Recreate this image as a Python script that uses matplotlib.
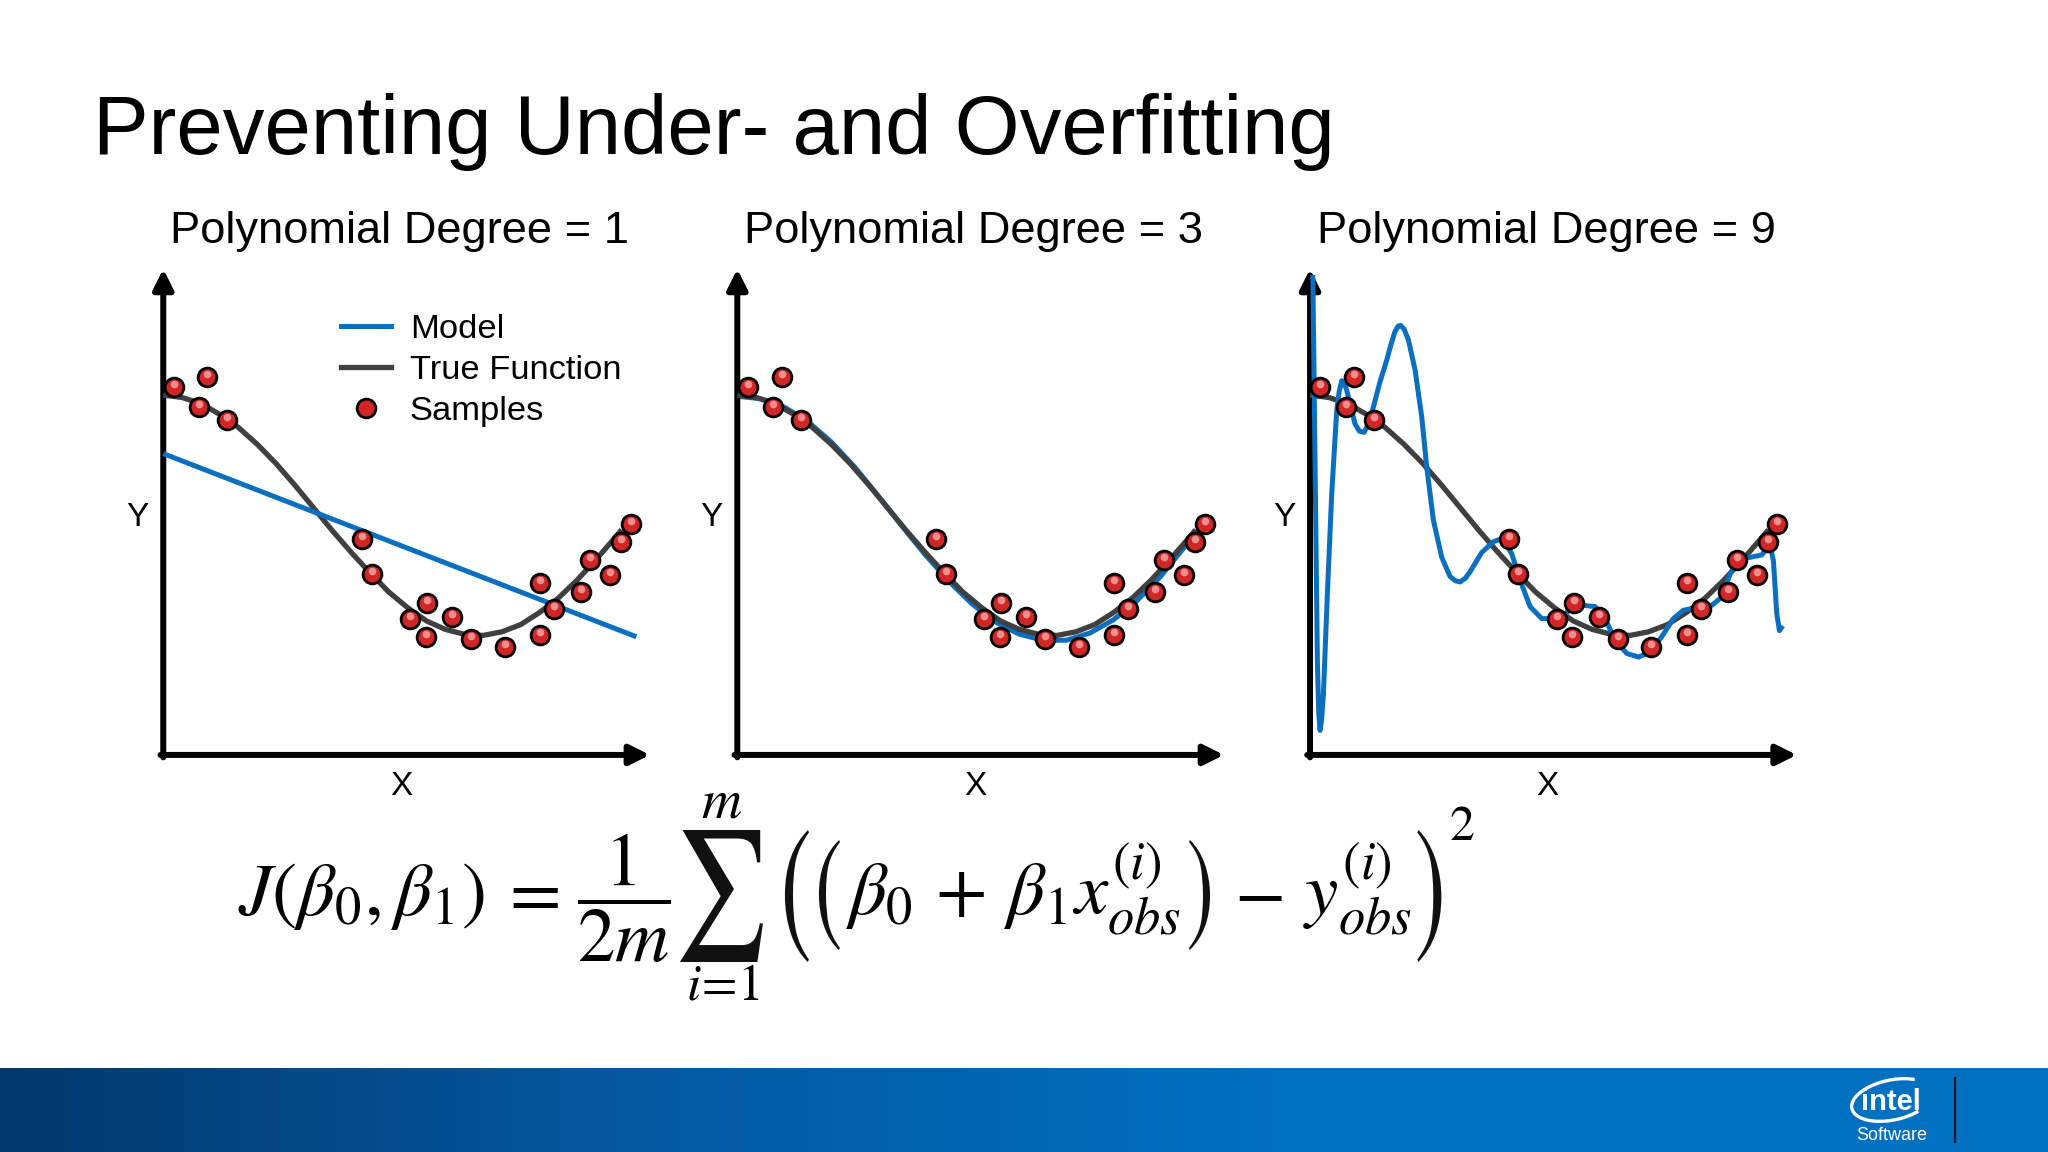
import numpy as np
import matplotlib
matplotlib.use("Agg")
import matplotlib.pyplot as plt
from matplotlib.lines import Line2D
from matplotlib.patches import Arc, PathPatch
from matplotlib.colors import LinearSegmentedColormap
from matplotlib.textpath import TextPath
from matplotlib.font_manager import FontProperties
from matplotlib.transforms import Affine2D
import matplotlib.transforms as mtransforms

plt.rcParams['font.family'] = ['Liberation Sans', 'DejaVu Sans']
plt.rcParams['mathtext.fontset'] = 'stix'

# ---------------- data ----------------
title = "Preventing Under- and Overfitting"
degrees = [1, 3, 9]
legend_labels = ["Model", "True Function", "Samples"]
x_label = "X"
y_label = "Y"
# cost function, split into its typeset pieces
f_lhs = r"$J(\beta_0,\beta_1)$"
f_eq = r"$=$"
f_frac = r"$\dfrac{1}{2m}$"
f_sum = "\u2211"
f_sum_top = r"$m$"
f_sum_bot = r"$i\!=\!1$"
f_inner = r"$\beta_0 \,+\, \beta_1 x_{obs}^{(i)}$"
f_minus = r"$-$"
f_y = r"$y_{obs}^{(i)}$"
f_pow = r"$2$"

sample_x = [0.022, 0.094, 0.076, 0.136, 0.423, 0.443, 0.525, 0.561, 0.558, 0.614,
            0.654, 0.726, 0.801, 0.801, 0.831, 0.888, 0.908, 0.950, 0.973, 0.994]
sample_y = [1.07, 1.15, 0.90, 0.79, -0.20, -0.49, -0.86, -0.73, -1.01, -0.85,
            -1.03, -1.10, -0.56, -1.00, -0.78, -0.64, -0.37, -0.50, -0.22, -0.07]

true_x = [0.00, 0.04, 0.08, 0.12, 0.16, 0.20, 0.24, 0.28, 0.32, 0.36, 0.40, 0.44, 0.48,
          0.52, 0.56, 0.60, 0.64, 0.68, 0.72, 0.76, 0.80, 0.84, 0.88, 0.92, 0.96, 0.975]
true_y = [1.00, 0.98, 0.93, 0.84, 0.73, 0.59, 0.43, 0.25, 0.06, -0.13, -0.31, -0.48, -0.64,
          -0.77, -0.88, -0.95, -0.99, -1.00, -0.97, -0.91, -0.81, -0.69, -0.54, -0.37, -0.19, -0.12]

model1_x = [0.0, 1.006]
model1_y = [0.513, -1.011]

model3_x = [0.00, 0.05, 0.10, 0.15, 0.20, 0.25, 0.30, 0.35, 0.40, 0.45, 0.50,
            0.55, 0.60, 0.65, 0.70, 0.75, 0.80, 0.85, 0.90, 0.95, 0.985]
model3_y = [0.99, 0.97, 0.90, 0.78, 0.61, 0.40, 0.16, -0.09, -0.33, -0.55, -0.74,
            -0.89, -0.99, -1.04, -1.04, -0.98, -0.87, -0.71, -0.51, -0.27, -0.11]

model9_x = [0.006, 0.0106, 0.0156, 0.0185, 0.0213, 0.0245, 0.0284, 0.0369, 0.0461, 0.0567,
            0.062, 0.0674, 0.072, 0.078, 0.0957, 0.105, 0.1149, 0.124, 0.1347, 0.148,
            0.163, 0.172, 0.1808, 0.1875, 0.1928, 0.200, 0.2092, 0.2233, 0.2375, 0.2482,
            0.2623, 0.2801, 0.2978, 0.309, 0.3191, 0.330, 0.3403, 0.3651, 0.39, 0.40,
            0.4112, 0.429, 0.4467, 0.468, 0.4928, 0.5247, 0.553, 0.5814, 0.6062, 0.6275,
            0.6487, 0.6736, 0.6984, 0.7232, 0.748, 0.7728, 0.7941, 0.8224, 0.8543, 0.8756,
            0.8933, 0.9111, 0.9359, 0.9607, 0.9784, 0.9855, 0.9926, 0.9983, 1.0053]
model9_y = [2.00, 0.46, -1.21, -1.65, -1.79, -1.70, -1.49, -0.65, 0.18, 0.87,
            1.03, 1.12, 1.11, 1.04, 0.76, 0.70, 0.69, 0.76, 0.90, 1.10,
            1.29, 1.42, 1.53, 1.575, 1.58, 1.55, 1.46, 1.21, 0.82, 0.40,
            -0.04, -0.35, -0.51, -0.545, -0.555, -0.525, -0.47, -0.31, -0.22, -0.205,
            -0.21, -0.32, -0.54, -0.76, -0.86, -0.86, -0.79, -0.75, -0.76, -0.86,
            -1.04, -1.15, -1.18, -1.14, -1.01, -0.86, -0.79, -0.77, -0.75, -0.68,
            -0.49, -0.36, -0.35, -0.33, -0.25, -0.38, -0.82, -0.96, -0.92]

model_x = [model1_x, model3_x, model9_x]
model_y = [model1_y, model3_y, model9_y]

# ---------------- style ----------------
BLUE = '#0b6fc0'
GRAY = '#404040'
RED = '#d22525'
W, H = 1568.0, 882.0          # reference layout units


def fx(X):
    return X / W


def fy(Y):
    return 1 - Y / H


fig = plt.figure(figsize=(20.48, 11.52), dpi=100)
fig.patch.set_facecolor('white')

fig.text(fx(71), fy(118), title, fontsize=60, ha='left', va='baseline', color='black')

origins = [125, 564.5, 1003]
XS, YS, Y0 = 360.0, 92.0, 394.5

for k, ox in enumerate(origins):
    ax = fig.add_axes([fx(ox - 40), fy(620), 440 / W, 425 / H])
    ax.set_xlim(-40 / XS, 400 / XS)
    ax.set_ylim((Y0 - 620) / YS, (Y0 - 195) / YS)
    ax.axis('off')

    ymin = (Y0 - 578) / YS
    ax.annotate('', xy=(0, 2.05), xytext=(0, ymin - 0.02),
                arrowprops=dict(arrowstyle='-|>', lw=4.3, color='black',
                                mutation_scale=30, shrinkA=0, shrinkB=0))
    ax.annotate('', xy=(1.035, ymin), xytext=(-0.006, ymin),
                arrowprops=dict(arrowstyle='-|>', lw=4.3, color='black',
                                mutation_scale=30, shrinkA=0, shrinkB=0))

    zm = 2 if k == 1 else 4
    ax.plot(true_x, true_y, color=GRAY, lw=3.8, zorder=3, solid_capstyle='butt',
            solid_joinstyle='round')
    ax.plot(model_x[k], model_y[k], color=BLUE, lw=3.6, zorder=zm, solid_capstyle='butt',
            solid_joinstyle='round')

    ax.plot(sample_x, sample_y, ls='none', marker='o', ms=13.5, mfc=RED, mec='black',
            mew=2.0, zorder=6)
    hl = mtransforms.offset_copy(ax.transData, fig=fig, x=0, y=2.2, units='points')
    ax.plot(sample_x, sample_y, ls='none', marker='o', ms=5.5, mfc='#f3a3a3', mec='none',
            alpha=0.85, zorder=7, transform=hl)

    ax.text(-20 / XS, (Y0 - 396) / YS, y_label, fontsize=24, ha='center', va='center')
    ax.text(182 / XS, (Y0 - 602) / YS, x_label, fontsize=24, ha='center', va='center',
            clip_on=False)

    fig.text(fx(ox + 181), fy(186), f"Polynomial Degree = {degrees[k]}", fontsize=32.6,
             ha='center', va='baseline')

    if k == 0:
        handles = [Line2D([], [], color=BLUE, lw=3.6),
                   Line2D([], [], color=GRAY, lw=3.8),
                   Line2D([], [], ls='none', marker='o', ms=13.5, mfc=RED, mec='black', mew=2.0)]
        ax.legend(handles, legend_labels, loc='upper left', bbox_to_anchor=(0.40, 0.893),
                  frameon=False, fontsize=24.8, handlelength=1.45, handletextpad=0.55,
                  labelspacing=0.28, borderpad=0, borderaxespad=0, numpoints=1)

# bottom band
band = fig.add_axes([0, 0, 1, (1152 - 1068) / 1152])
cmap = LinearSegmentedColormap.from_list('band', [(0, '#03396c'), (0.3, '#0558a0'),
                                                  (0.62, '#0070c0'), (1, '#0070c0')])
band.imshow(np.linspace(0, 1, 512)[None, :], cmap=cmap, aspect='auto', extent=(0, 1, 0, 1))
band.set_xlim(0, 1)
band.set_ylim(0, 1)
band.axis('off')

# overlay in pixel coordinates (formula + logo)
ov = fig.add_axes([0, 0, 1, 1], facecolor='none')
ov.set_xlim(0, 2048)
ov.set_ylim(1152, 0)
ov.axis('off')

renderer = fig.canvas.get_renderer()
stix = FontProperties(family='STIXGeneral')


def extent(t):
    bb = t.get_window_extent(renderer)
    return bb.x0, bb.x1, 1152 - bb.y1, 1152 - bb.y0   # left, right, top, bottom


def tall_glyph(ch, x_left, width, y_top, y_bot):
    tp = TextPath((0, 0), ch, size=100, prop=stix)
    e = tp.get_extents()
    sx = width / e.width
    sy = (y_bot - y_top) / e.height
    tr = Affine2D().translate(-e.x0, -e.y1).scale(sx, -sy).translate(x_left, y_top)
    ov.add_patch(PathPatch(tr.transform_path(tp), facecolor='#111111', edgecolor='none'))
    return x_left + width


FS = 54
lhs = ov.text(238, 900, f_lhs, fontsize=FS, ha='left', va='baseline')
l, r, t, b = extent(lhs)
B = 900 + (896.5 - (t + b) / 2)      # baseline so that the left side is centred on the axis
lhs.set_y(B)
l, r, t, b = extent(lhs)

eq = ov.text(r + 14, B, f_eq, fontsize=FS, ha='left', va='baseline')
l, r, t, b = extent(eq)
fr = ov.text(r + 18, B, f_frac, fontsize=54, ha='left', va='baseline')
l, r, t, b = extent(fr)
s_left = r + 9
s_right = tall_glyph(f_sum, s_left, 83, 830, 962)
s_mid = (s_left + s_right) / 2
ov.text(s_mid, 803, f_sum_top, fontsize=40, ha='center', va='center')
ov.text(s_mid + 2, 986, f_sum_bot, fontsize=37, ha='center', va='center')
xr = tall_glyph("(", s_right + 22, 24, 830, 962)
xr = tall_glyph("(", xr + 10, 21, 840, 950)
inner = ov.text(xr + 5, B, f_inner, fontsize=FS, ha='left', va='baseline')
l, r, t, b = extent(inner)
xr = tall_glyph(")", r + 8, 21, 840, 950)
minus = ov.text(xr + 24, B, f_minus, fontsize=FS, ha='left', va='baseline')
l, r, t, b = extent(minus)
yt = ov.text(r + 20, B, f_y, fontsize=FS, ha='left', va='baseline')
l, r, t, b = extent(yt)
xr = tall_glyph(")", r + 6, 24, 830, 962)
ov.text(xr + 8, 827, f_pow, fontsize=36, ha='left', va='center')

# logo
ov.add_patch(Arc((1892, 1100), 82, 40, angle=-12, theta1=35, theta2=330, color='white', lw=2.4))
ov.text(1891, 1102, "intel", color='white', fontsize=21, fontweight='bold',
        ha='center', va='center')
ov.text(1892, 1136, "Software", color='white', fontsize=13, ha='center', va='center')
ov.plot([1955, 1955], [1078, 1142], color='#10182a', lw=1.6)

fig.savefig('out.png', dpi=100)
